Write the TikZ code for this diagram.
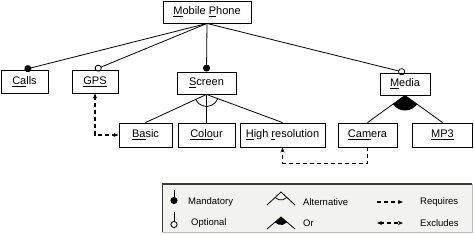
\documentclass[tikz,border=0pt]{standalone}
\usepackage{fontspec}
\setmainfont{Liberation Sans}
\usetikzlibrary{arrows.meta}
\definecolor{legfill}{HTML}{F2F2EE}
\definecolor{legedge}{HTML}{3A3A3A}
\definecolor{legshade}{HTML}{BDBDBD}
\tikzset{
  feat/.style={draw, line width=0.9pt, inner sep=0pt, minimum height=23pt, font=\fontsize{11}{13}\selectfont},
  edge/.style={line width=0.8pt},
  mand/.style={edge, -{Circle[length=7pt]}},
  opt/.style={edge, -{Circle[open, length=7pt, line width=0.8pt]}},
  req/.style={line width=1.1pt, dash pattern=on 4pt off 3pt, -{Stealth[length=5pt, width=4pt]}},
  excl/.style={line width=1.1pt, dash pattern=on 4pt off 3pt, {Stealth[length=5pt, width=4pt]}-{Stealth[length=5pt, width=4pt]}},
  legtext/.style={anchor=west, inner sep=0pt, font=\fontsize{9.5}{11}\selectfont},
}

\begin{document}
\begin{tikzpicture}[x=1pt, y=1pt]
  \useasboundingbox (0,0) rectangle (474,234);
  % features
  \node[feat, minimum width=88pt, minimum height=22pt] (phone) at (207,222) {\underline{M}obile \underline{P}hone};
  \node[feat, minimum width=47pt] (calls) at (24.5,152.5) {\underline{Ca}lls};
  \node[feat, minimum width=46pt] (gps) at (95,152.5) {\underline{GPS}};
  \node[feat, minimum width=59pt, minimum height=22pt] (scr) at (206.5,151) {\underline{S}creen};
  \node[feat, minimum width=50pt, minimum height=22pt] (media) at (405,150) {\underline{M}edia};
  \node[feat, minimum width=53pt, minimum height=24pt] (basic) at (145.5,99) {\underline{Ba}sic};
  \node[feat, minimum width=57pt, minimum height=24pt] (colour) at (206.5,99) {\underline{Colo}ur};
  \node[feat, minimum width=85pt, minimum height=24pt] (hires) at (282.5,99) {\underline{H}igh \underline{r}esolution};
  \node[feat, minimum width=59pt, minimum height=24pt] (cam) at (367.5,99) {\underline{Cam}era};
  \node[feat, minimum width=60pt, minimum height=24pt] (mp3) at (442.5,99) {\underline{MP3}};
  % mandatory / optional
  \draw[mand] (phone.south) -- (calls.north);
  \draw[opt] (phone.south) -- (gps.north);
  \draw[mand] (phone.south) -- (scr.north);
  \draw[opt] (phone.south) -- (media.north);
  % alternative group
  \draw[edge] (scr.south) -- (basic.north);
  \draw[edge] (scr.south) -- (colour.north);
  \draw[edge] (scr.south) -- (hires.north);
  \draw[edge] (scr.south) ++(206:12) arc[start angle=206, end angle=339, radius=12];
  % or group
  \draw[edge] (media.south) -- (cam.north);
  \draw[edge] (media.south) -- (mp3.north);
  \fill (media.south) -- ++(216:15) arc[start angle=216, end angle=324, radius=15] -- cycle;
  % cross-tree constraints
  \draw[excl] (gps.south) |- (basic.west);
  \draw[req] (cam.south) -- ++(0,-16) -| (hires.south);
  % legend
  \fill[legfill] (162,2) rectangle (472,50);
  \draw[legshade, line width=0.8pt] (162,2) -- (472,2) -- (472,50);
  \draw[legedge, line width=0.6pt] (162,2) -- (162,50);
  \draw[legedge, line width=1.6pt] (161.7,50) -- (472.4,50);
  \draw[mand] (174,44) -- (174,30);
  \draw[opt] (174,22) -- (174,6);
  \coordinate (alt) at (281,42);
  \coordinate (orr) at (281,17);
  \draw[edge] (alt) ++(-14,-13) -- (alt) -- ++(14,-13);
  \draw[edge] (alt) ++(223:8) arc[start angle=223, end angle=317, radius=8];
  \draw[edge] (orr) ++(-14,-12) -- (orr) -- ++(14,-12);
  \fill (orr) -- ++(223:8) arc[start angle=223, end angle=317, radius=8] -- cycle;
  \draw[req] (377,32) -- (403,32);
  \draw[excl] (377,11) -- (403,11);
  \node[legtext] (lmand) at (188,32) {Mandatory};
  \node[legtext] (lopt) at (191,11) {Optional};
  \node[legtext] (lalt) at (303,32) {Alternative};
  \node[legtext] (lor) at (303,11) {Or};
  \node[legtext] (lreq) at (420,32) {Requires};
  \node[legtext] (lexcl) at (420,11) {Excludes};
\end{tikzpicture}
\end{document}
